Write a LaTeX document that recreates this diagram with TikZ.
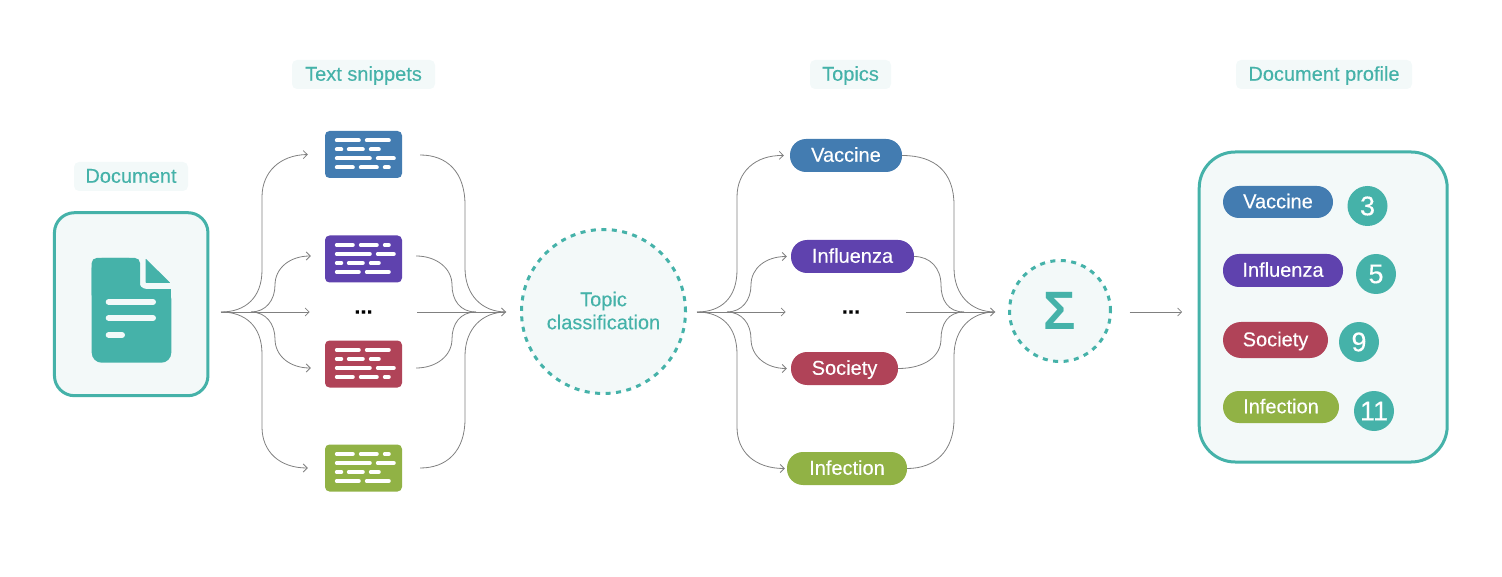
\documentclass[tikz,border=0pt]{standalone}
\usepackage{fontspec}
\setmainfont{Liberation Sans}[FakeBold=0.25]
\newfontfamily\sigmafont{Liberation Sans Bold}
\usetikzlibrary{arrows.meta,calc}
\definecolor{teal1}{HTML}{45B2A9}
\definecolor{pale}{HTML}{F3F9F9}
\definecolor{cblue}{HTML}{437CB1}
\definecolor{cpurple}{HTML}{5F42AE}
\definecolor{cred}{HTML}{B04358}
\definecolor{cgreen}{HTML}{91B245}
\definecolor{wire}{HTML}{808080}
\tikzset{
  tag/.style={fill=pale,rounded corners=5pt,text=teal1,inner sep=0pt,minimum height=29pt,text height=12.5pt,text depth=0pt,font=\fontsize{20}{23}\selectfont},
  panel/.style={draw=teal1,line width=3pt,fill=pale,inner sep=0pt},
  snip/.style={rounded corners=4.5pt,inner sep=0pt,minimum width=77pt,minimum height=47pt},
  pill/.style={rounded corners=16pt,inner sep=0pt,minimum height=33pt,text=white,text height=12.5pt,text depth=0pt,font=\fontsize{20}{23}\selectfont},
  count/.style={circle,fill=teal1,text=white,inner sep=0pt,minimum size=40pt,font=\fontsize{27}{30}\selectfont},
  dashring/.style={circle,draw=teal1,fill=pale,line width=3pt,inner sep=0pt,dash pattern=on 5pt off 5.5pt},
  wirepath/.style={draw=wire,line width=0.8pt},
  wirearrow/.style={wirepath,-{Straight Barb[length=4pt,width=8pt,line width=0.8pt]}},
  snipbar/.style={draw=white,line width=4pt,line cap=round},
  dots/.style={inner sep=0pt,minimum width=16pt,font=\fontsize{22}{24}\selectfont\bfseries},
}
\newcommand{\barsA}[1]{\begin{scope}[shift={(#1.north west)}]
  \draw[snipbar] (12,9.7)--(34,9.7) (42,9.7)--(64,9.7);
  \draw[snipbar] (12,18.7)--(16.5,18.7) (24,18.7)--(38,18.7) (46,18.7)--(54,18.7);
  \draw[snipbar] (12,27.7)--(45,27.7) (53,27.7)--(69,27.7);
  \draw[snipbar] (12,36.7)--(28,36.7) (36,36.7)--(52,36.7) (60,36.7)--(64,36.7);
\end{scope}}
\newcommand{\barsB}[1]{\begin{scope}[shift={(#1.north west)}]
  \draw[snipbar] (12,9.7)--(28,9.7) (36,9.7)--(52,9.7) (60,9.7)--(64,9.7);
  \draw[snipbar] (12,18.7)--(45,18.7) (53,18.7)--(69,18.7);
  \draw[snipbar] (12,27.7)--(16.5,27.7) (24,27.7)--(38,27.7) (46,27.7)--(54,27.7);
  \draw[snipbar] (12,36.7)--(34,36.7) (42,36.7)--(64,36.7);
\end{scope}}
\begin{document}
\begin{tikzpicture}[x=1pt,y=-1pt]
\useasboundingbox (0,0) rectangle (1502,577);
% tags
\node[tag,minimum width=114pt] (tdoc) at (131,176.5) {Document};
\node[tag,minimum width=143pt] (tsnip) at (363.5,74.5) {Text snippets};
\node[tag,minimum width=81pt] (ttop) at (850.5,74.5) {Topics};
\node[tag,minimum width=176pt] (tprof) at (1324,74.5) {Document profile};
% document
\node[panel,rounded corners=20pt,minimum width=153.5pt,minimum height=183pt] (doc) at (131.2,304.2) {};
\fill[teal1,rounded corners=10pt] (91.7,258) -- (139,258) -- (139,289) -- (171.3,289) -- (171.3,362.7) -- (91.7,362.7) -- cycle;
\fill[pale] (139,256) rectangle (173,280);
\fill[pale,rounded corners=8pt] (139,250) -- (139,289) -- (175,289) -- (175,250) -- cycle;
\fill[teal1,rounded corners=5pt] (91.7,258) -- (140,258) -- (140,300) -- (91.7,300) -- cycle;
\fill[teal1] (91.7,268) rectangle (139,300);
\fill[teal1] (135,289.5) rectangle (171.3,320);
\fill[teal1,rounded corners=0.8pt] (145.5,258.5) -- (170.5,283) -- (145.5,283) -- cycle;
\draw[pale,line width=6pt,line cap=round] (108.7,302) -- (153,302) (108.7,318) -- (153,318) (108.7,335) -- (122,335);
% snippets
\node[snip,fill=cblue] (s1) at (363.5,154.5) {};
\node[snip,fill=cpurple] (s2) at (363.5,259) {};
\node[dots] (s3) at (363.5,312) {...};
\node[snip,fill=cred] (s4) at (363.5,364) {};
\node[snip,fill=cgreen] (s5) at (363.5,468) {};
\barsA{s1}\barsB{s2}\barsA{s4}\barsB{s5}
% circles
\node[dashring,minimum size=164pt,text=teal1,align=center,font=\fontsize{20}{23}\selectfont] (topic) at (603.5,311.5) {Topic\\classification\rule[-2pt]{0pt}{2pt}};
\node[dashring,minimum size=101pt,text=teal1,font=\fontsize{54}{60}\selectfont] (sum) at (1060,311) {$\vcenter{\hbox{\sigmafont Σ}}$};
% topics
\node[pill,fill=cblue,minimum width=112pt] (p1) at (846,155.5) {Vaccine};
\node[pill,fill=cpurple,minimum width=123pt] (p2) at (852.5,256.5) {Influenza};
\node[dots] (p3) at (851,312) {...};
\node[pill,fill=cred,minimum width=107pt] (p4) at (844.5,368.5) {Society};
\node[pill,fill=cgreen,minimum width=120pt] (p5) at (847,468.5) {Infection};
% profile
\node[panel,rounded corners=36pt,minimum width=248pt,minimum height=310pt] (prof) at (1323.2,307) {};
\node[pill,fill=cblue,minimum width=110pt,minimum height=32pt] (q1) at (1278,202) {Vaccine};
\node[pill,fill=cpurple,minimum width=120pt] (q2) at (1283,270.5) {Influenza};
\node[pill,fill=cred,minimum width=105pt,minimum height=36pt,rounded corners=18pt] (q3) at (1275.5,340) {Society};
\node[pill,fill=cgreen,minimum width=116pt,minimum height=32pt] (q4) at (1281,407) {Infection};
\node[count] (n1) at (1367.5,206) {3};
\node[count] (n2) at (1376,274) {5};
\node[count] (n3) at (1359,342) {9};
\node[count] (n4) at (1374,411) {11};
% junction points
\coordinate (fa) at (221,312);
\coordinate (fb) at (251,312);
\coordinate (ga) at (506,312);
\coordinate (gb) at (476,312);
\coordinate (ha) at (697,312);
\coordinate (hb) at (727,312);
\coordinate (ka) at (995,312);
\coordinate (kb) at (964,312);
% left fan
\draw[wirearrow] (fa) .. controls (245,312) and (262,298) .. (262,270) -- (262,197) .. controls (262,172) and (280,155) .. ($(s1.west)+(-17,0)$);
\draw[wirepath] (fa) -- (fb);
\draw[wirearrow] (fb) .. controls (266,312) and (275,300) .. (275,285) .. controls (275,268) and (290,256) .. ($(s2.west |- 0,256)+(-14,0)$);
\draw[wirearrow] (fa) -- ($(s3.west |- fa)+(-44.5,0)$);
\draw[wirearrow] (fb) .. controls (266,312) and (275,324) .. (275,339) .. controls (275,356) and (290,368) .. ($(s4.west |- 0,368)+(-14,0)$);
\draw[wirearrow] (fa) .. controls (245,312) and (262,326) .. (262,354) -- (262,427) .. controls (262,452) and (280,468) .. ($(s5.west)+(-17,0)$);
% into topic classification
\draw[wirepath] ($(s1.east |- 0,155)+(18,0)$) .. controls (447,155) and (465,172) .. (465,205) -- (465,268) .. controls (465,295) and (482,312) .. (ga);
\draw[wirepath] ($(s2.east |- 0,256)+(14,0)$) .. controls (436,256) and (452,268) .. (452,285) .. controls (452,300) and (460,312) .. (gb);
\draw[wirearrow] ($(s3.east |- fa)+(44.5,0)$) -- (ga);
\draw[wirepath] ($(s4.east |- 0,368)+(14,0)$) .. controls (436,368) and (452,356) .. (452,339) .. controls (452,324) and (460,312) .. (gb);
\draw[wirepath] ($(s5.east |- 0,468)+(18,0)$) .. controls (447,468) and (465,451) .. (465,419) -- (465,356) .. controls (465,329) and (482,312) .. (ga);
% out of topic classification
\draw[wirearrow] (ha) .. controls (721,312) and (737,298) .. (737,270) -- (737,197) .. controls (737,172) and (755,155) .. ($(p1.west)+(-6,0)$);
\draw[wirepath] (ha) -- (hb);
\draw[wirearrow] (hb) .. controls (742,312) and (751,300) .. (751,285) .. controls (751,268) and (766,256.5) .. ($(p2.west)+(-4,0)$);
\draw[wirearrow] (ha) -- ($(p3.west |- ha)+(-56,0)$);
\draw[wirearrow] (hb) .. controls (742,312) and (751,324) .. (751,339) .. controls (751,356) and (766,368.5) .. ($(p4.west)+(-4,0)$);
\draw[wirearrow] (ha) .. controls (721,312) and (737,326) .. (737,354) -- (737,427) .. controls (737,452) and (755,468.5) .. ($(p5.west)+(-2,0)$);
% into sum
\draw[wirepath] (p1.east) .. controls (935,155.5) and (954,172) .. (954,205) -- (954,268) .. controls (954,295) and (971,312) .. (ka);
\draw[wirepath] (p2.east) .. controls (930,256.5) and (941,268) .. (941,285) .. controls (941,300) and (948,312) .. (kb);
\draw[wirearrow] ($(p3.east |- ka)+(46,0)$) -- (ka);
\draw[wirepath] (p4.east) .. controls (925,368.5) and (941,356) .. (941,339) .. controls (941,324) and (948,312) .. (kb);
\draw[wirepath] (p5.east) .. controls (935,468.5) and (954,451) .. (954,419) -- (954,356) .. controls (954,329) and (971,312) .. (ka);
% out of sum
\draw[wirearrow] ($(sum.east |- ka)+(17.5,0)$) -- ($(prof.west |- ka)+(-15.5,0)$);
\end{tikzpicture}
\end{document}
